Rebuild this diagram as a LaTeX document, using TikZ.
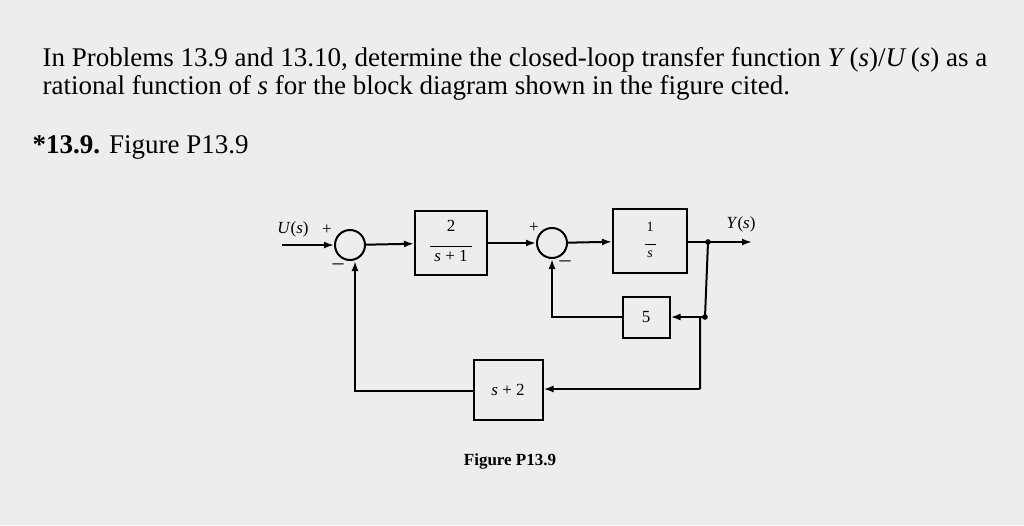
\documentclass[tikz,border=0pt]{standalone}
\usepackage{amsmath}
\usepackage{fontspec}
\setmainfont{Liberation Serif}
\usetikzlibrary{arrows.meta}
\newcommand{\vi}[1]{\textit{#1}}
\begin{document}
\begin{tikzpicture}[x=1pt,y=-1pt,
  blk/.style={draw,line width=2pt,minimum width=#1,inner sep=0pt,font=\fontsize{17}{19}\selectfont},
  sumj/.style={draw,line width=2pt,circle,minimum size=30pt,inner sep=0pt},
  sig/.style={line width=2pt,-{Latex[length=10pt,width=7pt]}},
  lbl/.style={font=\fontsize{17}{19}\selectfont},
  dot/.style={circle,fill,inner sep=2pt}]
\fill[black!7] (0,0) rectangle (1024,525);
\useasboundingbox (0,0) rectangle (1024,525);
\node[anchor=west,font=\fontsize{27}{31}\selectfont] (t1) at (39,60) {In Problems 13.9 and 13.10, determine the closed-loop transfer function \vi{Y}\,(\vi{s})/\vi{U}\,(\vi{s}) as a};
\node[anchor=west,font=\fontsize{27}{31}\selectfont] (t2) at (39,88) {rational function of \vi{s} for the block diagram shown in the figure cited.};
\node[anchor=west,font=\fontsize{27}{31}\selectfont] (t3) at (29,147) {\textbf{*13.9.} Figure P13.9};
% blocks
\node[sumj] (s1) at (350,245) {};
\node[blk=72pt,minimum height=64pt] (b1) at (451,243) {\begin{tabular}{@{}c@{}}2\\[-4pt]\rule{42pt}{0.8pt}\\[-4pt]\vi{s} + 1\end{tabular}};
\node[sumj] (s2) at (552,243) {};
\node[blk=74pt,minimum height=64pt] (b2) at (650,241) {\begin{tabular}{@{}c@{}}\fontsize{14}{14}\selectfont 1\\[-6pt]\rule{11pt}{0.8pt}\\[-6pt]\fontsize{14}{14}\selectfont\vi{s}\end{tabular}};
\node[blk=47pt,minimum height=41pt] (b5) at (646,317) {5};
\node[blk=69pt,minimum height=60pt] (b3) at (508,390) {\vi{s} + 2};
\coordinate (in) at (282,245);
\coordinate (br1) at (708,242);
\coordinate (out) at (752,242);
\coordinate (br2) at (705,317);
\coordinate (c1) at (700,389);
\coordinate (c2) at (355,391);
\coordinate (c3) at (552,317);
\node[dot] (d1) at (br1) {};
\node[dot] (d2) at (br2) {};
\draw[sig] (in) -- (s1);
\draw[sig] (s1) -- (b1);
\draw[sig] (b1) -- (s2);
\draw[sig] (s2) -- (b2);
\draw[sig] (b2.east|-br1) -- (out);
\draw[line width=2pt] (br1) -- (br2) -- (c1|-br2) -- (c1);
\draw[sig] (c1) -- (b3.east|-c1);
\draw[sig] (br2) -- (b5);
\draw[sig] (b3.west|-c2) -- (c2) -- (s1.south-|c2);
\draw[sig] (b5) -- (c3) -- (s2);
\node[lbl] (lu) at (293,229) {\vi{U}(\vi{s})};
\node[lbl] (ly) at (741,224) {\vi{Y}(\vi{s})};
\node[lbl] (p1) at (327,230) {+};
\node[font=\fontsize{22}{22}\selectfont] (m1) at (338,267) {--};
\node[lbl] (p2) at (534,228) {+};
\node[font=\fontsize{22}{22}\selectfont] (m2) at (565,264) {--};
\node[font=\bfseries\fontsize{17}{19}\selectfont] (cap) at (510,461) {Figure P13.9};
\end{tikzpicture}
\end{document}
